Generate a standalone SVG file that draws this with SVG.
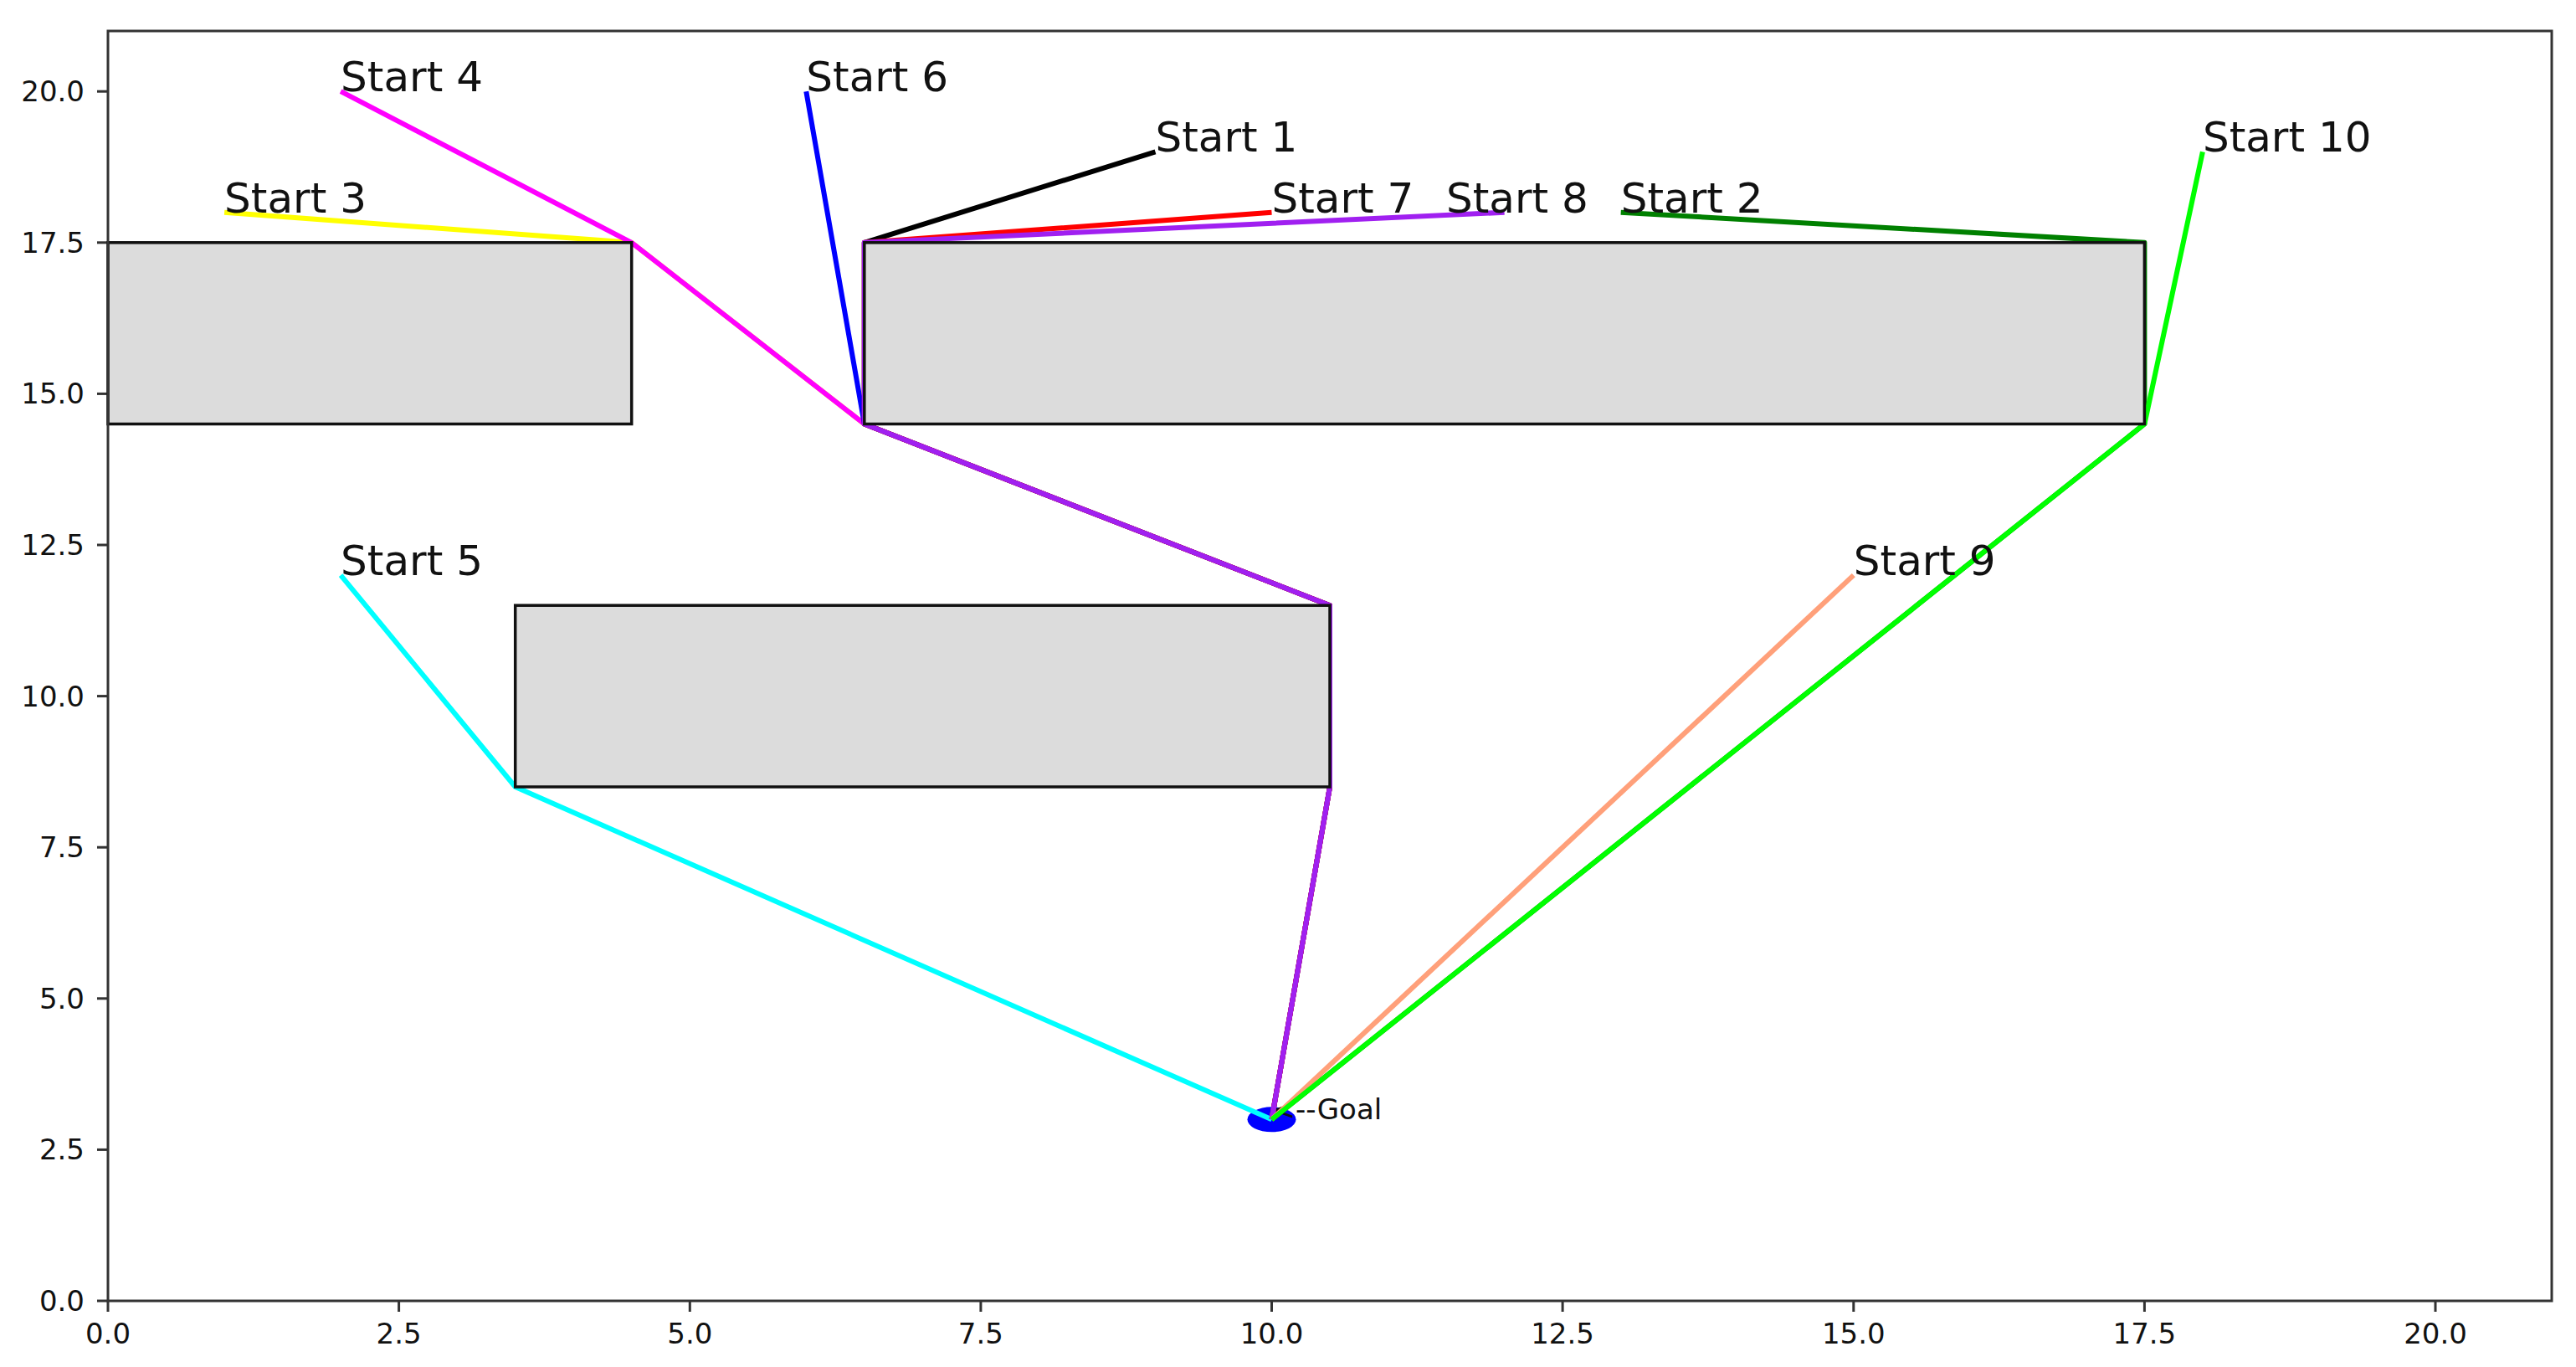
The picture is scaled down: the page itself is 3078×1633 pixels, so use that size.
<svg xmlns="http://www.w3.org/2000/svg" width="3078" height="1633" viewBox="0 0 3078 1633">
<style>
text{font-family:"DejaVu Sans","Liberation Sans",sans-serif;fill:#111}
.tick{font-size:34px}
.xt{text-anchor:middle}
.yt{text-anchor:end}
.lbl{font-size:50px}
.spine{fill:none;stroke:#333;stroke-width:3}
.tk{stroke:#333;stroke-width:3}
.obs{fill:#dcdcdc;stroke:#111;stroke-width:3.5}
.p{fill:none;stroke-width:6;stroke-linejoin:round;stroke-linecap:butt}
</style>
<rect x="0" y="0" width="3078" height="1633" fill="#fff"/>
<g id="axes">
<g id="xticks">
<line class="tk" x1="129" y1="1554" x2="129" y2="1567"/>
<line class="tk" x1="476.6" y1="1554" x2="476.6" y2="1567"/>
<line class="tk" x1="824.3" y1="1554" x2="824.3" y2="1567"/>
<line class="tk" x1="1171.9" y1="1554" x2="1171.9" y2="1567"/>
<line class="tk" x1="1519.5" y1="1554" x2="1519.5" y2="1567"/>
<line class="tk" x1="1867.1" y1="1554" x2="1867.1" y2="1567"/>
<line class="tk" x1="2214.8" y1="1554" x2="2214.8" y2="1567"/>
<line class="tk" x1="2562.4" y1="1554" x2="2562.4" y2="1567"/>
<line class="tk" x1="2910" y1="1554" x2="2910" y2="1567"/>
<text class="tick xt" x="129" y="1605">0.0</text>
<text class="tick xt" x="476.6" y="1605">2.5</text>
<text class="tick xt" x="824.3" y="1605">5.0</text>
<text class="tick xt" x="1171.9" y="1605">7.5</text>
<text class="tick xt" x="1519.5" y="1605">10.0</text>
<text class="tick xt" x="1867.1" y="1605">12.5</text>
<text class="tick xt" x="2214.8" y="1605">15.0</text>
<text class="tick xt" x="2562.4" y="1605">17.5</text>
<text class="tick xt" x="2910" y="1605">20.0</text>
</g>
<g id="yticks">
<line class="tk" x1="116" y1="1554" x2="129" y2="1554"/>
<line class="tk" x1="116" y1="1373.4" x2="129" y2="1373.4"/>
<line class="tk" x1="116" y1="1192.8" x2="129" y2="1192.8"/>
<line class="tk" x1="116" y1="1012.2" x2="129" y2="1012.2"/>
<line class="tk" x1="116" y1="831.6" x2="129" y2="831.6"/>
<line class="tk" x1="116" y1="651" x2="129" y2="651"/>
<line class="tk" x1="116" y1="470.4" x2="129" y2="470.4"/>
<line class="tk" x1="116" y1="289.8" x2="129" y2="289.8"/>
<line class="tk" x1="116" y1="109.2" x2="129" y2="109.2"/>
<text class="tick yt" x="101" y="1566">0.0</text>
<text class="tick yt" x="101" y="1385.4">2.5</text>
<text class="tick yt" x="101" y="1204.8">5.0</text>
<text class="tick yt" x="101" y="1024.2">7.5</text>
<text class="tick yt" x="101" y="843.6">10.0</text>
<text class="tick yt" x="101" y="663">12.5</text>
<text class="tick yt" x="101" y="482.4">15.0</text>
<text class="tick yt" x="101" y="301.8">17.5</text>
<text class="tick yt" x="101" y="121.2">20.0</text>
</g>
</g>
<g id="goal">
<ellipse cx="1519.5" cy="1337.3" rx="29" ry="15" fill="#0000ff"/>
<text class="tick" x="1519.5" y="1337.3">&lt;--Goal</text>
</g>
<g id="connectors">
<path class="p" stroke="#000000" d="M1380.5,181.4 L1032.8,289.8 L1032.8,506.5 L1589,723.2 L1589,940 L1519.5,1337.3"/>
<path class="p" stroke="#008000" d="M1936.7,253.7 L2562.4,289.8 L2562.4,506.5 L1519.5,1337.3"/>
<path class="p" stroke="#ffff00" d="M268.1,253.7 L754.7,289.8 L1032.8,506.5 L1589,723.2 L1589,940 L1519.5,1337.3"/>
<path class="p" stroke="#ff00ff" d="M407.1,109.2 L754.7,289.8 L1032.8,506.5 L1589,723.2 L1589,940 L1519.5,1337.3"/>
<path class="p" stroke="#00ffff" d="M407.1,687.1 L615.7,940 L1519.5,1337.3"/>
<path class="p" stroke="#0000ff" d="M963.3,109.2 L1032.8,506.5 L1589,723.2 L1589,940 L1519.5,1337.3"/>
<path class="p" stroke="#ff0000" d="M1519.5,253.7 L1032.8,289.8 L1032.8,506.5 L1589,723.2 L1589,940 L1519.5,1337.3"/>
<path class="p" stroke="#a020f0" d="M1797.6,253.7 L1032.8,289.8 L1032.8,506.5 L1589,723.2 L1589,940 L1519.5,1337.3"/>
<path class="p" stroke="#ffa07a" d="M2214.8,687.1 L1519.5,1337.3"/>
<path class="p" stroke="#00ff00" d="M2631.9,181.4 L2562.4,506.5 L1519.5,1337.3"/>
</g>
<g id="obstacle-1"><rect class="obs" x="129" y="289.8" width="625.7" height="216.7"/></g>
<g id="obstacle-2"><rect class="obs" x="1032.8" y="289.8" width="1529.6" height="216.7"/></g>
<g id="obstacle-3"><rect class="obs" x="615.7" y="723.2" width="973.3" height="216.8"/></g>
<g id="labels">
<text class="lbl" x="1380.5" y="181.4">Start 1</text>
<text class="lbl" x="1936.7" y="253.7">Start 2</text>
<text class="lbl" x="268.1" y="253.7">Start 3</text>
<text class="lbl" x="407.1" y="109.2">Start 4</text>
<text class="lbl" x="407.1" y="687.1">Start 5</text>
<text class="lbl" x="963.3" y="109.2">Start 6</text>
<text class="lbl" x="1519.5" y="253.7">Start 7</text>
<text class="lbl" x="1728" y="253.7">Start 8</text>
<text class="lbl" x="2214.8" y="687.1">Start 9</text>
<text class="lbl" x="2631.9" y="181.4">Start 10</text>
</g>
<rect class="spine" x="129" y="37" width="2920" height="1517"/>
</svg>
